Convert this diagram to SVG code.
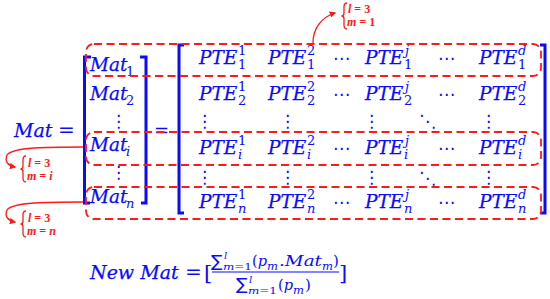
<svg xmlns="http://www.w3.org/2000/svg" width="550" height="299" viewBox="0 0 550 299">
<defs>
<style>
.m{font-family:"DejaVu Serif",serif;font-style:italic;fill:#0a0aff;font-size:18.5px;stroke:#0a0aff;stroke-width:0.25}
.s{font-family:"DejaVu Serif",serif;font-style:italic;fill:#0a0aff;font-size:13px}
.n{font-family:"DejaVu Serif",serif;fill:#0a0aff;font-size:13px}
.big{font-family:"DejaVu Serif",serif;font-style:italic;fill:#0a0aff;font-size:19px;stroke:#0a0aff;stroke-width:0.25}
.op{font-family:"DejaVu Serif",serif;fill:#0a0aff}
.d{font-family:"DejaVu Sans",sans-serif;fill:#0a0aff;font-size:17px}
.br{fill:none;stroke:#0a0aff;stroke-width:3}
.box{fill:none;stroke:#ff1a1a;stroke-width:1.8;stroke-dasharray:8 4.5}
.cv{fill:none;stroke:#ff1a1a;stroke-width:1.3}
.an{font-family:"Liberation Serif",serif;font-weight:bold;fill:#ff1a1a;font-size:12px}
.an .i{font-style:italic}
.fr{font-family:"DejaVu Serif",serif;fill:#0a0aff;font-style:italic}
</style>
<marker id="ah" viewBox="0 0 10 10" refX="8" refY="5" markerWidth="5" markerHeight="5" orient="auto">
<path d="M0,0 L10,5 L0,10 z" fill="#ff1a1a"/>
</marker>
</defs>

<g id="label-mat">
<text class="big" x="14" y="137">Mat</text>
<text class="op" x="58" y="137" font-size="20">=</text>
</g>

<g id="mat-vector">
<path class="br" d="M91,57 H84.5 V203 H90"/>
<path class="br" d="M140,57 H146 V203 H141"/>
<text class="m" x="90" y="71">Mat</text><text class="n" x="126" y="76">1</text>
<text class="m" x="90" y="100">Mat</text><text class="n" x="126" y="105">2</text>
<text class="d" x="110" y="127">⋮</text>
<text class="m" x="90" y="151">Mat</text><text class="s" x="126" y="156">i</text>
<text class="d" x="110" y="178">⋮</text>
<text class="m" x="90" y="203">Mat</text><text class="s" x="126" y="208">n</text>
</g>

<g id="equals">
<text class="op" x="154" y="137" font-size="18">=</text>
</g>

<g id="pte-matrix">
<path class="br" d="M184,45 H179 V213 H184"/>
<path class="br" d="M540,45 H545 V213 H540"/>
<!-- row 1 -->
<text class="m" x="199" y="64">PTE</text><text class="n" x="238" y="55">1</text><text class="n" x="238" y="69">1</text>
<text class="m" x="268" y="64">PTE</text><text class="n" x="307" y="55">2</text><text class="n" x="307" y="69">1</text>
<text class="d" x="333" y="64">⋯</text>
<text class="m" x="365" y="64">PTE</text><text class="s" x="405" y="55">j</text><text class="n" x="404" y="69">1</text>
<text class="d" x="438" y="64">⋯</text>
<text class="m" x="479" y="64">PTE</text><text class="s" x="518" y="55">d</text><text class="n" x="518" y="69">1</text>
<!-- row 2 -->
<text class="m" x="199" y="100">PTE</text><text class="n" x="238" y="91">1</text><text class="n" x="238" y="105">2</text>
<text class="m" x="268" y="100">PTE</text><text class="n" x="307" y="91">2</text><text class="n" x="307" y="105">2</text>
<text class="d" x="333" y="100">⋯</text>
<text class="m" x="365" y="100">PTE</text><text class="s" x="405" y="91">j</text><text class="n" x="404" y="105">2</text>
<text class="d" x="438" y="100">⋯</text>
<text class="m" x="479" y="100">PTE</text><text class="s" x="518" y="91">d</text><text class="n" x="518" y="105">2</text>
<!-- row 3 dots -->
<text class="d" x="196" y="127">⋮</text>
<text class="d" x="279" y="127">⋮</text>
<text class="d" x="363" y="127">⋮</text>
<text class="d" x="419" y="127">⋱</text>
<text class="d" x="480" y="127">⋮</text>
<!-- row i -->
<text class="m" x="199" y="154">PTE</text><text class="n" x="238" y="145">1</text><text class="s" x="238" y="159">i</text>
<text class="m" x="268" y="154">PTE</text><text class="n" x="307" y="145">2</text><text class="s" x="307" y="159">i</text>
<text class="d" x="333" y="154">⋯</text>
<text class="m" x="365" y="154">PTE</text><text class="s" x="405" y="145">j</text><text class="s" x="404" y="159">i</text>
<text class="d" x="438" y="154">⋯</text>
<text class="m" x="479" y="154">PTE</text><text class="s" x="518" y="145">d</text><text class="s" x="518" y="159">i</text>
<!-- row 5 dots -->
<text class="d" x="196" y="183">⋮</text>
<text class="d" x="279" y="183">⋮</text>
<text class="d" x="363" y="183">⋮</text>
<text class="d" x="419" y="184">⋱</text>
<text class="d" x="480" y="183">⋮</text>
<!-- row n -->
<text class="m" x="199" y="208">PTE</text><text class="n" x="238" y="199">1</text><text class="s" x="238" y="213">n</text>
<text class="m" x="268" y="208">PTE</text><text class="n" x="307" y="199">2</text><text class="s" x="307" y="213">n</text>
<text class="d" x="333" y="208">⋯</text>
<text class="m" x="365" y="208">PTE</text><text class="s" x="405" y="199">j</text><text class="s" x="404" y="213">n</text>
<text class="d" x="438" y="208">⋯</text>
<text class="m" x="479" y="208">PTE</text><text class="s" x="518" y="199">d</text><text class="s" x="518" y="213">n</text>
</g>

<g id="row-boxes">
<rect class="box" x="86" y="44" width="455" height="32" rx="8"/>
<rect class="box" x="86" y="132" width="455" height="33" rx="8"/>
<rect class="box" x="86" y="187" width="455" height="32" rx="8"/>
</g>

<g id="connectors">
<path class="cv" d="M313,43 C313,28 322,17 335,13" marker-end="url(#ah)"/>
<path class="cv" d="M83,147 C50,147 12,147 7,155 C4,162 9,166 15,167" marker-end="url(#ah)"/>
<path class="cv" d="M83,202 C50,202 12,202 7,210 C4,217 9,221 15,222" marker-end="url(#ah)"/>
</g>

<g id="note-row1">
<path class="cv" d="M347,3 Q344,3 344,7 V13 Q344,16 341.5,16 Q344,16 344,19 V25 Q344,29 347,29"/>
<text class="an" x="348" y="13"><tspan class="i">l</tspan> = 3</text>
<text class="an" x="347" y="26"><tspan class="i">m</tspan> = 1</text>
</g>

<g id="note-rowi">
<path class="cv" d="M26,156 Q23,156 23,160 V166 Q23,169 20.5,169 Q23,169 23,172 V178 Q23,182 26,182"/>
<text class="an" x="28" y="167"><tspan class="i">l</tspan> = 3</text>
<text class="an" x="27" y="180"><tspan class="i">m</tspan> = <tspan class="i">i</tspan></text>
</g>

<g id="note-rown">
<path class="cv" d="M26,211 Q23,211 23,215 V221 Q23,224 20.5,224 Q23,224 23,227 V233 Q23,237 26,237"/>
<text class="an" x="28" y="222"><tspan class="i">l</tspan> = 3</text>
<text class="an" x="27" y="235"><tspan class="i">m</tspan> = <tspan class="i">n</tspan></text>
</g>

<g id="formula">
<text class="big" x="90" y="279">New Mat</text>
<text class="op" x="185" y="279" font-size="20">=</text>
<text class="op" x="204" y="280" font-size="21">[</text>
<text class="op" x="339" y="280" font-size="21">]</text>
<!-- numerator -->
<text class="d" x="211" y="267" font-size="15">∑</text>
<text class="fr" x="224" y="259" font-size="10">l</text>
<text class="fr" x="223" y="270" font-size="10" textLength="29" lengthAdjust="spacingAndGlyphs">m<tspan font-style="normal">=1</tspan></text>
<text class="fr" x="252" y="266" font-size="15" textLength="15" lengthAdjust="spacingAndGlyphs"><tspan font-style="normal">(</tspan>p</text>
<text class="fr" x="267" y="270" font-size="11" textLength="11" lengthAdjust="spacingAndGlyphs">m</text>
<text class="fr" x="279" y="266" font-size="15" textLength="43" lengthAdjust="spacingAndGlyphs">.Mat</text>
<text class="fr" x="322" y="270" font-size="11" textLength="11" lengthAdjust="spacingAndGlyphs">m</text>
<text class="op" x="333" y="266" font-size="15">)</text>
<line x1="212" y1="272" x2="339" y2="272" stroke="#0a0aff" stroke-width="1.2"/>
<!-- denominator -->
<text class="d" x="236" y="290" font-size="15">∑</text>
<text class="fr" x="249" y="283" font-size="10">l</text>
<text class="fr" x="248" y="294" font-size="10" textLength="29" lengthAdjust="spacingAndGlyphs">m<tspan font-style="normal">=1</tspan></text>
<text class="fr" x="278" y="290" font-size="15" textLength="15" lengthAdjust="spacingAndGlyphs"><tspan font-style="normal">(</tspan>p</text>
<text class="fr" x="293" y="294" font-size="11" textLength="11" lengthAdjust="spacingAndGlyphs">m</text>
<text class="op" x="305" y="290" font-size="15">)</text>
</g>
</svg>
